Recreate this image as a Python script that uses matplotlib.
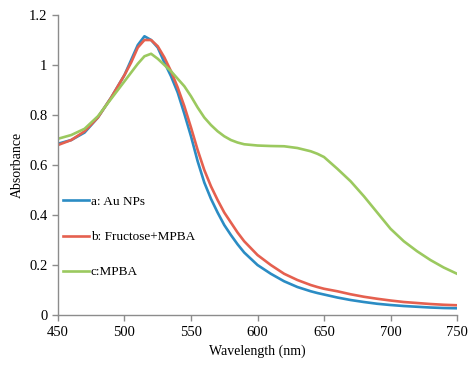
import matplotlib
matplotlib.use('Agg')
import matplotlib.pyplot as plt

plt.rcParams['font.family'] = ['Liberation Serif', 'DejaVu Serif']

wavelength = [450, 460, 470, 480, 490, 500, 505, 510, 515, 520, 525, 530, 535,
              540, 545, 550, 555, 560, 565, 570, 575, 580, 585, 590, 600, 610,
              620, 630, 640, 645, 650, 660, 670, 680, 690, 700, 710, 720, 730,
              740, 750]

au_nps = [0.685, 0.70, 0.73, 0.79, 0.87, 0.96, 1.02, 1.08, 1.115, 1.10, 1.07,
          1.01, 0.955, 0.89, 0.805, 0.715, 0.615, 0.53, 0.465, 0.41, 0.36,
          0.32, 0.283, 0.25, 0.20, 0.165, 0.135, 0.112, 0.095, 0.088, 0.082,
          0.07, 0.06, 0.052, 0.045, 0.040, 0.036, 0.033, 0.030, 0.028, 0.027]

fructose_mpba = [0.68, 0.70, 0.735, 0.79, 0.87, 0.96, 1.01, 1.07, 1.10, 1.10,
                 1.075, 1.03, 0.975, 0.91, 0.835, 0.75, 0.66, 0.58, 0.515,
                 0.46, 0.41, 0.37, 0.33, 0.295, 0.24, 0.20, 0.165, 0.14, 0.12,
                 0.112, 0.105, 0.095, 0.083, 0.073, 0.065, 0.058, 0.052, 0.048,
                 0.044, 0.041, 0.039]

mpba = [0.705, 0.72, 0.745, 0.795, 0.865, 0.935, 0.97, 1.005, 1.035, 1.045,
        1.025, 1.0, 0.975, 0.945, 0.915, 0.875, 0.83, 0.79, 0.76, 0.735,
        0.715, 0.70, 0.69, 0.683, 0.678, 0.676, 0.675, 0.668, 0.655, 0.645,
        0.632, 0.585, 0.535, 0.475, 0.41, 0.345, 0.295, 0.255, 0.22, 0.19,
        0.165]

labels = ['a: Au NPs', 'b: Fructose+MPBA', 'c:MPBA']
colors = ['#2b8cc4', '#e5604f', '#9bc95f']

fig = plt.figure(figsize=(4.73, 3.69), dpi=100)
ax = fig.add_axes([0.1226, 0.1463, 0.8436, 0.8130])

for ys, lab, c in zip([au_nps, fructose_mpba, mpba], labels, colors):
    ax.plot(wavelength, ys, color=c, lw=1.9, label=lab)

ax.set_xlim(450, 750)
ax.set_ylim(0, 1.2)
ax.set_xticks(range(450, 751, 50))
ax.set_yticks([0, 0.2, 0.4, 0.6, 0.8, 1.0, 1.2])
ax.set_yticklabels(['0', '0.2', '0.4', '0.6', '0.8', '1', '1.2'])

for s in ['top', 'right']:
    ax.spines[s].set_visible(False)
for s in ['left', 'bottom']:
    ax.spines[s].set_color('#8c8c8c')
    ax.spines[s].set_linewidth(1.0)
ax.tick_params(axis='both', direction='out', length=4, color='#8c8c8c',
               labelsize=10.5, width=1.0)
ax.tick_params(axis='x', pad=4)

ax.set_xlabel('Wavelength (nm)', fontsize=10)
ax.set_ylabel('Absorbance', fontsize=10)

ax.legend(loc='center left', bbox_to_anchor=(0.0125, 0.26), frameon=False,
          fontsize=9.5, handlelength=2.0, handletextpad=0.1,
          labelspacing=1.75, borderaxespad=0, borderpad=0)

fig.savefig('out.png', dpi=100)
